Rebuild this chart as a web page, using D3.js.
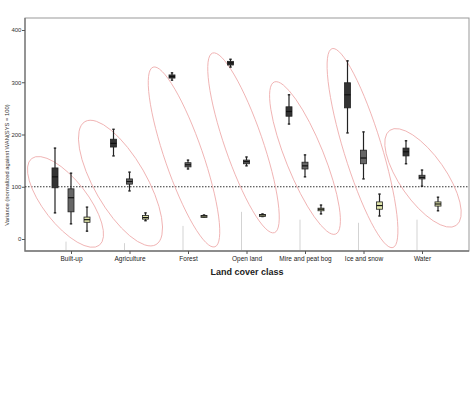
<!DOCTYPE html>
<html>
<head>
<meta charset="utf-8">
<script src="https://cdn.jsdelivr.net/npm/d3@7"></script>
<style>
  body { margin: 0; background: #fff; }
  svg text { font-family: "Liberation Sans", Arial, sans-serif; }
</style>
</head>
<body>
<div id="chart"></div>
<script>
// categories on the x axis
var categories = ["Built-up", "Agriculture", "Forest", "Open land", "Mire and peat bog", "Ice and snow", "Water"];

// three box series per category: [whiskerLow, q1, median, q3, whiskerHigh]
var series1 = [
  [50, 98, 119, 136, 174],
  [159, 176, 183, 191, 210],
  [304, 308, 311, 314, 318],
  [329, 333, 337, 340, 344],
  [220, 235, 244, 253, 276],
  [203, 251, 276, 299, 341],
  [144, 159, 167, 174, 188]
];
var series2 = [
  [29, 52, 79, 96, 126],
  [92, 105, 110, 115, 128],
  [134, 138, 142, 146, 151],
  [140, 144, 148, 151, 157],
  [119, 134, 140, 147, 161],
  [115, 144, 155, 170, 205],
  [101, 115, 118, 122, 132]
];
var series3 = [
  [15, 32, 37, 42, 61],
  [35, 38, 41, 45, 50],
  [42, 44, 44, 45, 46],
  [43, 45, 46, 47, 48],
  [48, 54, 57, 59, 65],
  [44, 57, 64, 71, 86],
  [54, 63, 67, 71, 80]
];

var yTicks = [0, 100, 200, 300, 400];
var refValue = 100;

// red ellipses drawn round each category: centre value, tilt
var ellipseValues = [71, 107, 157, 184, 155, 174, 117];
var ellipseAngles = [52, 60, 71, 71, 68, 73, 55];
var ellipseAxes = [[55, 22], [71, 26], [95, 19], [95, 19], [82, 19], [104, 19], [58, 23]];
var ellipseShift = [-5.5, -9, -4, -3, 0, -1, 1];
// thin grey guide lines under each group (top value)
var guideTops = [-5, -8, 25, 52, 37, 31, 37];

var width = 474, height = 394;
var margin = {top: 18, right: 5, bottom: 143, left: 25};

var svg = d3.select("#chart").append("svg")
    .attr("width", width)
    .attr("height", height);

var x = d3.scalePoint()
    .domain(categories)
    .range([71, 422]);

var y = d3.scaleLinear()
    .domain([0, 400])
    .range([239, 30]);

// frame
svg.append("rect")
    .attr("x", margin.left)
    .attr("y", margin.top)
    .attr("width", width - margin.left - margin.right)
    .attr("height", 251 - margin.top)
    .attr("fill", "none")
    .attr("stroke", "#999")
    .attr("stroke-width", 1);
svg.append("path")
    .attr("d", "M" + margin.left + "," + margin.top + "V251H" + (width - margin.right))
    .attr("fill", "none")
    .attr("stroke", "#777")
    .attr("stroke-width", 1.3);

// grey guide lines
svg.selectAll(".guide")
    .data(categories)
  .enter().append("line")
    .attr("x1", function(d) { return x(d) - 5; })
    .attr("x2", function(d) { return x(d) - 5; })
    .attr("y1", function(d, i) { return y(guideTops[i]); })
    .attr("y2", 250)
    .attr("stroke", "#c8c8c8")
    .attr("stroke-width", 0.8);

// reference line
svg.append("line")
    .attr("x1", margin.left)
    .attr("x2", width - margin.right)
    .attr("y1", y(refValue))
    .attr("y2", y(refValue))
    .attr("stroke", "#333")
    .attr("stroke-width", 1)
    .attr("stroke-dasharray", "1.5,1.5");

// ellipses
svg.selectAll(".ell")
    .data(categories)
  .enter().append("ellipse")
    .attr("cx", 0)
    .attr("cy", 0)
    .attr("rx", function(d, i) { return ellipseAxes[i][0]; })
    .attr("ry", function(d, i) { return ellipseAxes[i][1]; })
    .attr("transform", function(d, i) {
      return "translate(" + (x(d) + ellipseShift[i]) + "," + y(ellipseValues[i]) + ") rotate(" + ellipseAngles[i] + ")";
    })
    .attr("fill", "none")
    .attr("stroke", "#eeaaaa")
    .attr("stroke-width", 0.8);

// boxes
var allSeries = [
  {vals: series1, off: -16, fill: "#333333", w: 6},
  {vals: series2, off: 0, fill: "#666666", w: 6},
  {vals: series3, off: 16, fill: "#e2e7ab", w: 6}
];

allSeries.forEach(function(s) {
  var g = svg.append("g");
  s.vals.forEach(function(v, i) {
    var cx = x(categories[i]) + s.off;
    g.append("line")
      .attr("x1", cx).attr("x2", cx)
      .attr("y1", y(v[0])).attr("y2", y(v[4]))
      .attr("stroke", "#222").attr("stroke-width", 1.2);
    [v[0], v[4]].forEach(function(e) {
      g.append("line")
        .attr("x1", cx - 1.2).attr("x2", cx + 1.2)
        .attr("y1", y(e)).attr("y2", y(e))
        .attr("stroke", "#222").attr("stroke-width", 1.4);
    });
    g.append("rect")
      .attr("x", cx - s.w / 2)
      .attr("y", y(v[3]))
      .attr("width", s.w)
      .attr("height", Math.max(y(v[1]) - y(v[3]), 2))
      .attr("fill", s.fill)
      .attr("stroke", "#222")
      .attr("stroke-width", 0.8);
    g.append("line")
      .attr("x1", cx - s.w / 2).attr("x2", cx + s.w / 2)
      .attr("y1", y(v[2])).attr("y2", y(v[2]))
      .attr("stroke", "#111").attr("stroke-width", 1.2);
  });
});

// y axis ticks
var yAxis = svg.append("g")
    .attr("transform", "translate(" + margin.left + ",0)")
    .call(d3.axisLeft(y).tickValues(yTicks).tickSize(3).tickSizeOuter(0));
yAxis.select(".domain").remove();
yAxis.selectAll("line").attr("stroke", "#555");
yAxis.selectAll("text").attr("font-size", 6).attr("fill", "#333").attr("dx", "0.4em");

// x axis ticks
var xAxis = svg.append("g")
    .attr("transform", "translate(0,251)")
    .call(d3.axisBottom(x).tickSize(3).tickSizeOuter(0));
xAxis.select(".domain").remove();
xAxis.selectAll("line").attr("stroke", "#555");
xAxis.selectAll("text").attr("font-size", 6.5).attr("fill", "#222").attr("dy", "0.55em");

// axis titles
svg.append("text")
    .attr("x", 247)
    .attr("y", 275)
    .attr("text-anchor", "middle")
    .attr("font-size", 9)
    .attr("font-weight", "bold")
    .attr("fill", "#222")
    .text("Land cover class");

svg.append("text")
    .attr("transform", "translate(9,165) rotate(-90)")
    .attr("text-anchor", "middle")
    .attr("font-size", 5.8)
    .attr("fill", "#333")
    .text("Variance (normalized against WAN(SYS = 100)");
</script>
</body>
</html>
